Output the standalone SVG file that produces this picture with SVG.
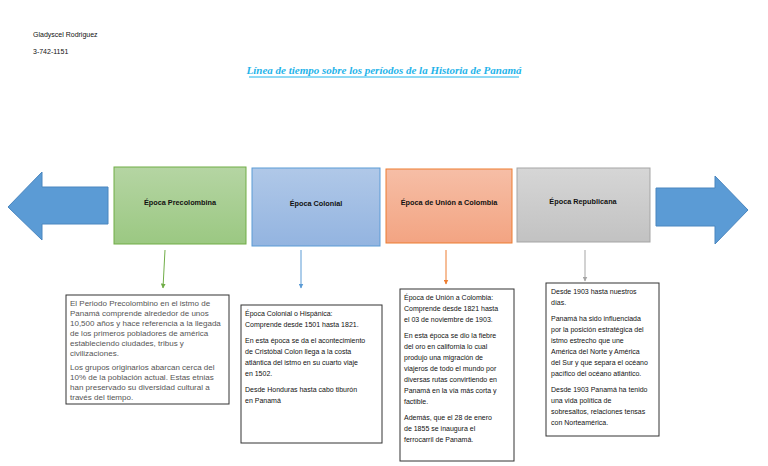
<svg xmlns="http://www.w3.org/2000/svg" width="768" height="466" viewBox="0 0 768 466">
<defs>
<style>
.c{font-family:"Liberation Sans",Arial,sans-serif;font-size:7px;fill:#111}
.b{font-family:"Liberation Sans",Arial,sans-serif;font-size:7.3px;font-weight:bold;fill:#111;text-anchor:middle}
.g{font-family:"Liberation Sans",Arial,sans-serif;font-size:8px;fill:#555}
.tb{fill:#fff;stroke:#333;stroke-width:1}
</style>
<linearGradient id="gg" x1="0" y1="0" x2="0" y2="1"><stop offset="0" stop-color="#b5d5a3"/><stop offset="1" stop-color="#9bc882"/></linearGradient>
<linearGradient id="gb" x1="0" y1="0" x2="0" y2="1"><stop offset="0" stop-color="#b0c8e8"/><stop offset="1" stop-color="#93b4e0"/></linearGradient>
<linearGradient id="go" x1="0" y1="0" x2="0" y2="1"><stop offset="0" stop-color="#f6bea6"/><stop offset="1" stop-color="#f3a482"/></linearGradient>
<linearGradient id="gy" x1="0" y1="0" x2="0" y2="1"><stop offset="0" stop-color="#d6d6d6"/><stop offset="1" stop-color="#c2c2c2"/></linearGradient>
<marker id="ma" viewBox="0 0 10 10" refX="9" refY="5" markerWidth="5" markerHeight="5" orient="auto"><path d="M0,0L10,5L0,10z" fill="context-stroke"/></marker>
</defs>
<text x="33" y="37" class="c" font-size="7">Gladyscel Rodriguez</text>
<text x="33" y="54" class="c" font-size="7">3-742-1151</text>
<text x="384" y="74" text-anchor="middle" font-family="Liberation Serif,serif" font-size="11" font-style="italic" font-weight="bold" fill="#1fb4ea">Línea de tiempo sobre los períodos de la Historia de Panamá</text>
<line x1="249" y1="77" x2="519" y2="77" stroke="#1fb4ea" stroke-width="1"/>
<g id="arrowL"><path d="M108,187 H42 V172 L8,207 L42,240 V224 H108 Z" fill="#5b9bd5" stroke="#4a86bf"/></g>
<g id="arrowR"><path d="M656,188 H715 V176 L748,210 L715,244 V226 H656 Z" fill="#5b9bd5" stroke="#4a86bf"/></g>
<g id="n1"><rect x="114" y="167" width="132" height="77" fill="url(#gg)" stroke="#70ad47"/><text x="180" y="205" class="b">Época Precolombina</text></g>
<g id="n2"><rect x="252" y="168" width="128" height="78" fill="url(#gb)" stroke="#5b9bd5"/><text x="316" y="206" class="b">Época Colonial</text></g>
<g id="n3"><rect x="386" y="169" width="126" height="74" fill="url(#go)" stroke="#ed7d31"/><text x="449" y="205" class="b">Época de Unión a Colombia</text></g>
<g id="n4"><rect x="517" y="168" width="133" height="74" fill="url(#gy)" stroke="#a5a5a5"/><text x="583" y="204" class="b">Época Republicana</text></g>
<g id="connectors" stroke-width="1" fill="none">
<line x1="165" y1="250" x2="163" y2="288" stroke="#70ad47" marker-end="url(#ma)"/>
<line x1="301" y1="250" x2="301" y2="288" stroke="#5b9bd5" marker-end="url(#ma)"/>
<line x1="446" y1="250" x2="446" y2="284" stroke="#ed7d31" marker-end="url(#ma)"/>
<line x1="585" y1="250" x2="585" y2="281" stroke="#a5a5a5" marker-end="url(#ma)"/>
</g>
<g id="t1"><rect x="66" y="295" width="163" height="109" class="tb"/>
<text class="g"><tspan x="70" y="306">El Periodo Precolombino en el istmo de</tspan><tspan x="70" y="316">Panamá comprende alrededor de unos</tspan><tspan x="70" y="326">10,500 años y hace referencia a la llegada</tspan><tspan x="70" y="336">de los primeros pobladores de américa</tspan><tspan x="70" y="346">estableciendo ciudades, tribus y</tspan><tspan x="70" y="356">civilizaciones.</tspan><tspan x="70" y="370">Los grupos originarios abarcan cerca del</tspan><tspan x="70" y="380">10% de la población actual.  Estas etnias</tspan><tspan x="70" y="390">han preservado su diversidad cultural a</tspan><tspan x="70" y="400">través del tiempo.</tspan></text></g>
<g id="t2"><rect x="241" y="305" width="141" height="138" class="tb"/>
<text class="c"><tspan x="245" y="316">Época Colonial o Hispánica:</tspan><tspan x="245" y="327">Comprende desde 1501 hasta 1821.</tspan><tspan x="245" y="343">En esta época se da el acontecimiento</tspan><tspan x="245" y="354">de Cristóbal Colon llega a la costa</tspan><tspan x="245" y="365">atlántica del istmo en su cuarto viaje</tspan><tspan x="245" y="376">en 1502.</tspan><tspan x="245" y="392">Desde Honduras hasta cabo tiburón</tspan><tspan x="245" y="403">en Panamá</tspan></text></g>
<g id="t3"><rect x="400" y="289" width="114" height="172" class="tb"/>
<text class="c"><tspan x="404" y="300">Época de Unión a Colombia:</tspan><tspan x="404" y="311">Comprende desde 1821 hasta</tspan><tspan x="404" y="322">el 03 de noviembre de 1903.</tspan><tspan x="404" y="338">En esta época se dio la fiebre</tspan><tspan x="404" y="349">del oro en california lo cual</tspan><tspan x="404" y="360">produjo una migración de</tspan><tspan x="404" y="371">viajeros de todo el mundo por</tspan><tspan x="404" y="382">diversas rutas convirtiendo en</tspan><tspan x="404" y="393">Panamá en la vía más corta y</tspan><tspan x="404" y="404">factible.</tspan><tspan x="404" y="420">Además, que el 28 de enero</tspan><tspan x="404" y="431">de 1855 se inaugura   el</tspan><tspan x="404" y="442">ferrocarril de Panamá.</tspan></text></g>
<g id="t4"><rect x="546" y="283" width="113" height="153" class="tb"/>
<text class="c"><tspan x="551" y="294">Desde 1903 hasta nuestros</tspan><tspan x="551" y="305">días.</tspan><tspan x="551" y="321">Panamá ha sido influenciada</tspan><tspan x="551" y="332">por la posición estratégica del</tspan><tspan x="551" y="343">istmo estrecho que une</tspan><tspan x="551" y="354">América del Norte y América</tspan><tspan x="551" y="365">del Sur y que separa el océano</tspan><tspan x="551" y="376">pacífico del océano atlántico.</tspan><tspan x="551" y="392">Desde 1903 Panamá ha tenido</tspan><tspan x="551" y="403">una vida política de</tspan><tspan x="551" y="414">sobresaltos, relaciones tensas</tspan><tspan x="551" y="425">con Norteamérica.</tspan></text></g>
</svg>
